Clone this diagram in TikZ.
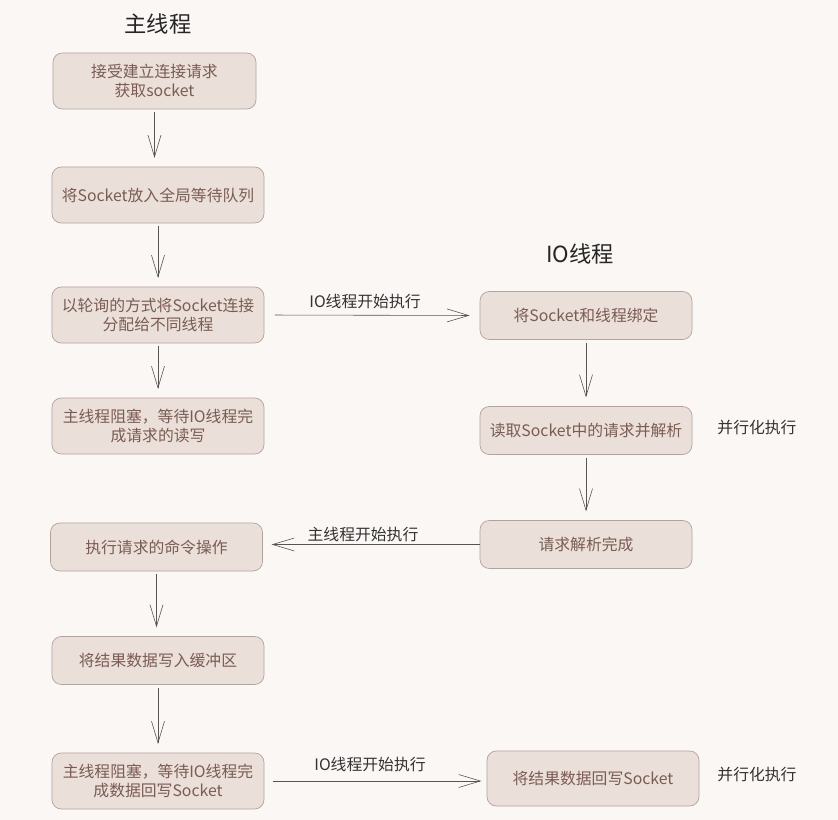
\documentclass[tikz,border=0pt]{standalone}
\usepackage{fontspec}
\setmainfont{Noto Sans CJK SC}
\usetikzlibrary{arrows.meta,positioning}
\definecolor{bgcol}{HTML}{FBF7F4}
\definecolor{boxfill}{HTML}{EBDFDA}
\definecolor{boxline}{HTML}{B3A19B}
\definecolor{boxtext}{HTML}{7A5C52}
\definecolor{arrowcol}{HTML}{555555}

\begin{document}
\begin{tikzpicture}[x=0.03cm, y=-0.03cm,
  box/.style={draw=boxline, rounded corners=8pt, fill=boxfill, text=boxtext, align=center, minimum width=6.36cm, minimum height=1.68cm, line width=0.6pt, font=\fontsize{13.5}{15.5}\selectfont},
  shortbox/.style={box, minimum height=1.44cm},
  title/.style={text=black!85, font=\fontsize{19}{22}\selectfont},
  labelnote/.style={text=black!80, inner sep=1pt, font=\fontsize{13.5}{15.5}\selectfont},
  arrow/.style={-{Straight Barb[length=6.5mm, width=3.9mm]}, draw=arrowcol, line width=0.5pt, shorten <=2.5pt, shorten >=7.5pt}
]
\fill[bgcol] (0,0) rectangle (838,820);

% main thread
\node[title] (maint) at (158,24) {主线程};
\node[box, minimum width=6.09cm] (accept) at (154.5,81) {接受建立连接请求\\获取socket};
\node[box] (enqueue) at (158,195) {将Socket放入全局等待队列};
\node[box] (assign) at (158,315) {以轮询的方式将Socket连接\\分配给不同线程};
\node[box] (waitread) at (158,426) {主线程阻塞，等待IO线程完\\成请求的读写};
\node[shortbox] (execcmd) at (156.5,547) {执行请求的命令操作};
\node[shortbox] (writebuf) at (158,660.5) {将结果数据写入缓冲区};
\node[box] (waitwrite) at (158,781) {主线程阻塞，等待IO线程完\\成数据回写Socket};

% io threads
\node[title] (iot) at (580,254) {IO线程};
\node[shortbox] (bind) at (586,315.5) {将Socket和线程绑定};
\node[shortbox] (parse) at (586,430.5) {读取Socket中的请求并解析};
\node[shortbox] (parsed) at (586,544.5) {请求解析完成};
\node[box, minimum height=1.65cm] (writeback) at (593,778.5) {将结果数据回写Socket};

\node[labelnote] (par1) at (757,428) {并行化执行};
\node[labelnote] (par2) at (757,775) {并行化执行};
\node[labelnote] (l1) at (365,302) {IO线程开始执行};
\node[labelnote] (l2) at (363,535) {主线程开始执行};
\node[labelnote] (l3) at (370,764) {IO线程开始执行};

\draw[arrow] (accept.south) -- (accept.south |- enqueue.north);
\draw[arrow] (enqueue) -- (assign);
\draw[arrow] (assign) -- (waitread);
\draw[arrow] (execcmd.south) -- (execcmd.south |- writebuf.north);
\draw[arrow] (writebuf) -- (waitwrite);
\draw[arrow] (bind) -- (parse);
\draw[arrow] (parse) -- (parsed);

\draw[arrow, shorten <=9pt, shorten >=8.5pt] (assign.east) -- (bind.west);
\draw[arrow, shorten <=0pt] (parsed.west) -- (parsed.west -| execcmd.east);
\draw[arrow, shorten <=7pt, shorten >=4.5pt] (waitwrite.east) -- (waitwrite.east -| writeback.west);
\end{tikzpicture}
\end{document}
